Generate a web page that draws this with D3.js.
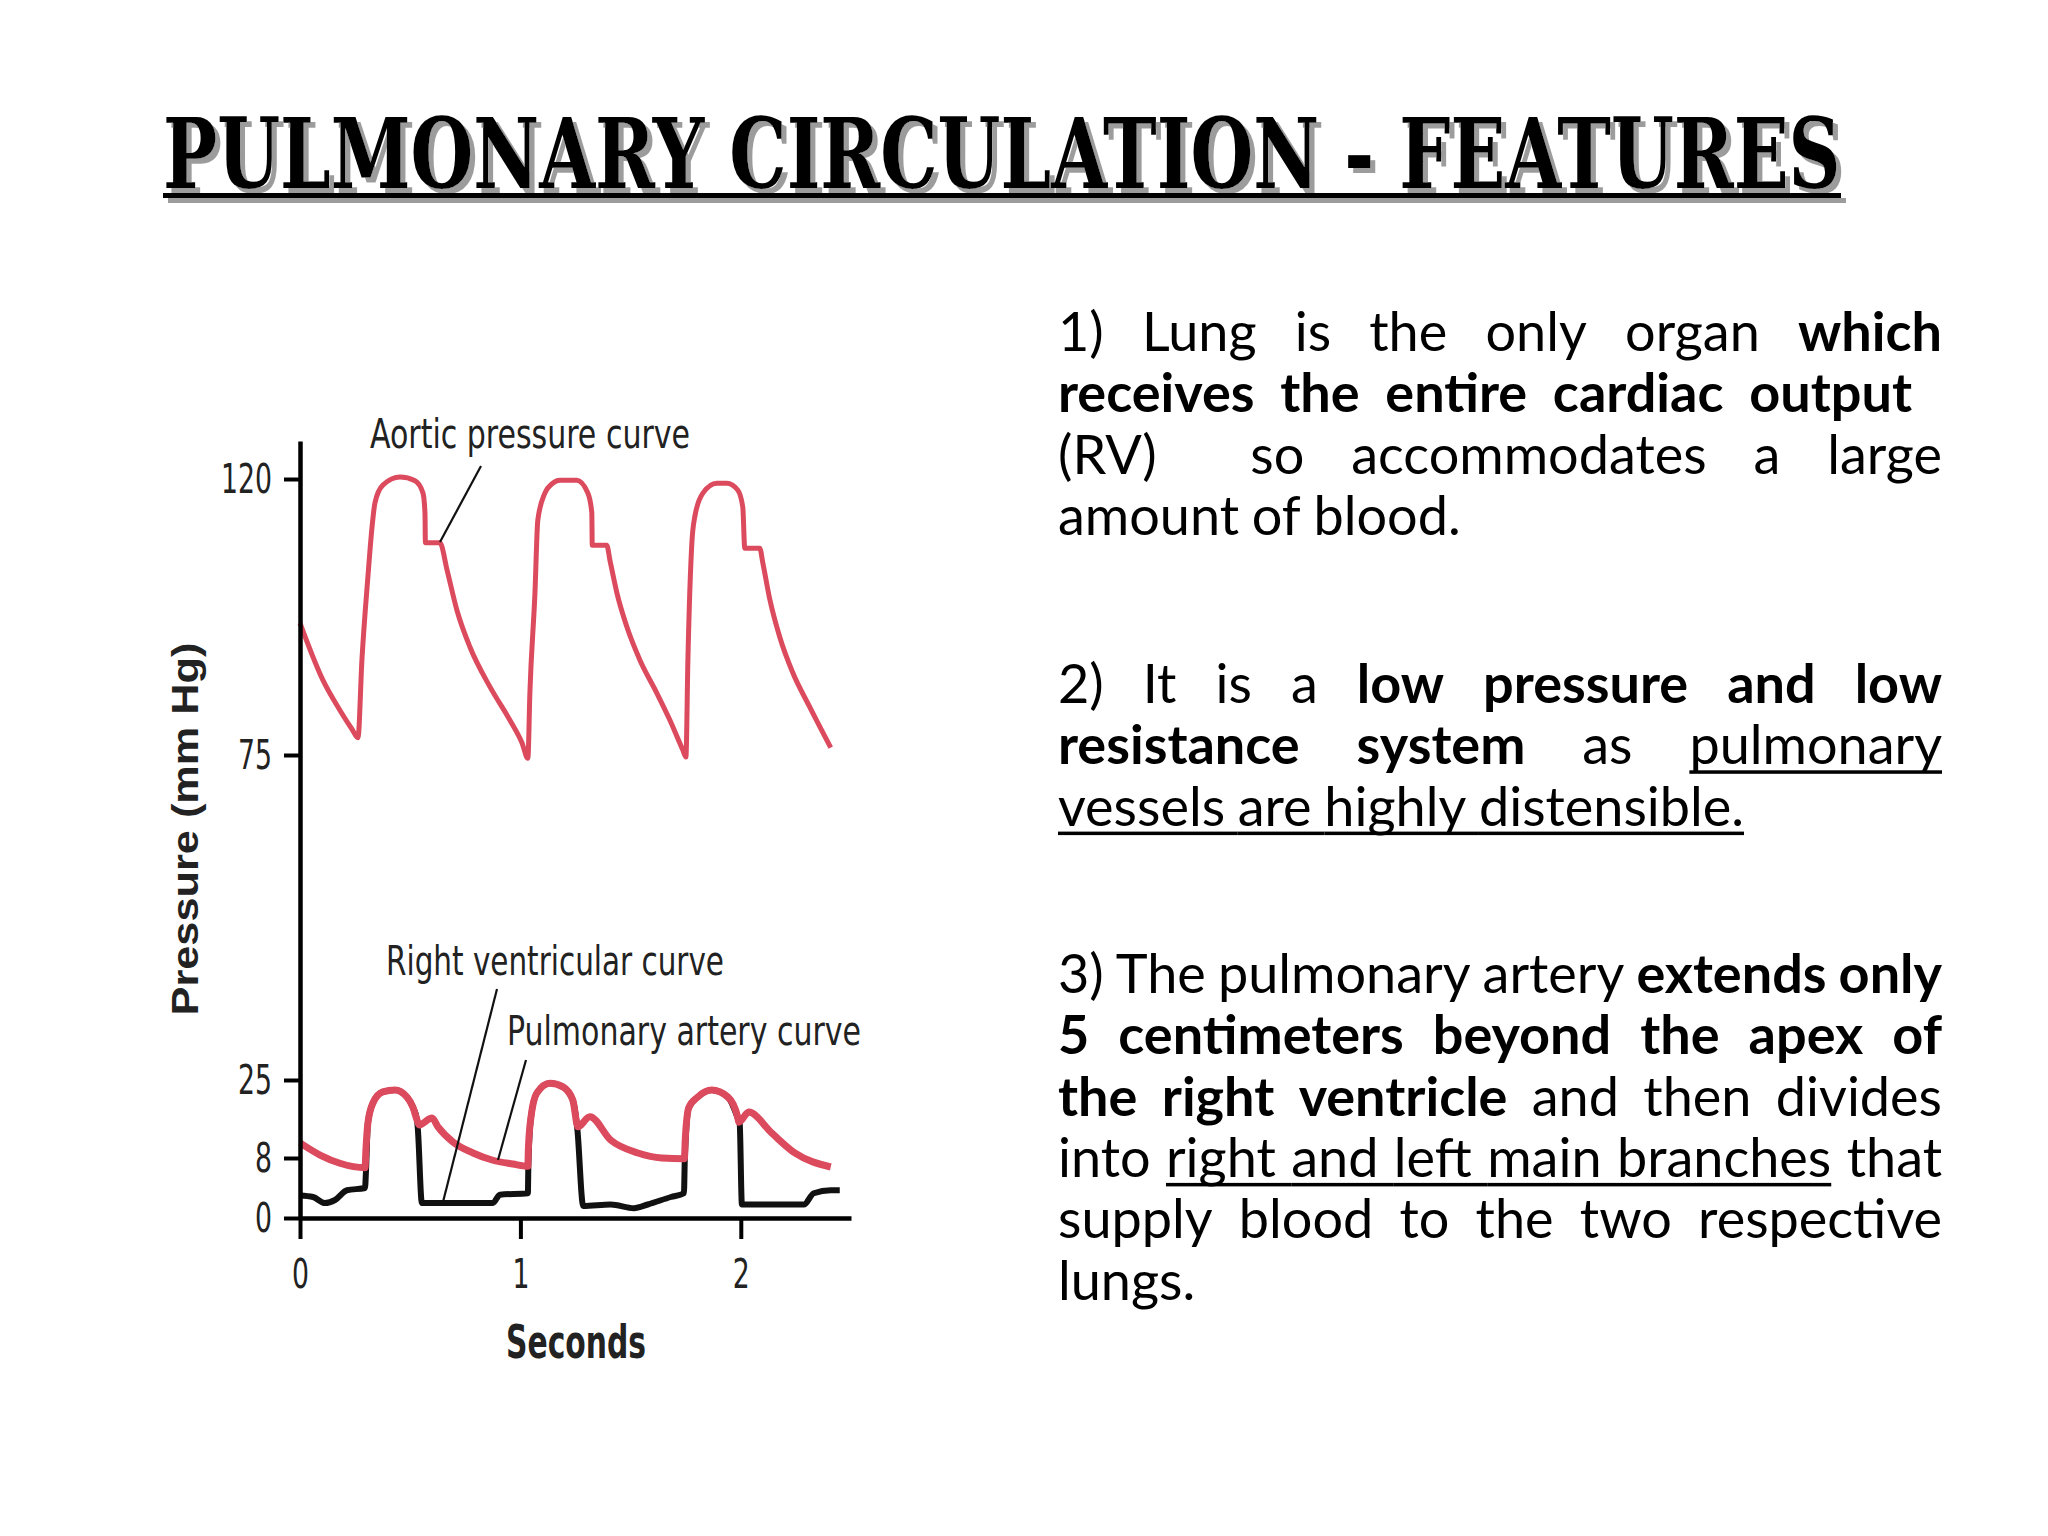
<!DOCTYPE html>
<html>
<head>
<meta charset="utf-8">
<script src="https://cdn.jsdelivr.net/npm/d3@7"></script>
<style>
body { margin: 0; background: #fff; }
</style>
</head>
<body>
<svg id="slide" width="2048" height="1536">
  <defs>
    <filter id="shadow" x="-5%" y="-20%" width="110%" height="140%">
      <feDropShadow dx="5" dy="5" stdDeviation="0.6" flood-color="#9c9c9c" flood-opacity="1"/>
    </filter>
  </defs>
</svg>
<script>
// pressure traces: time in seconds, pressure in mm Hg
var aorticTime = [0.000, 0.104, 0.181, 0.236, 0.263, 0.281, 0.308, 0.327, 0.340, 0.376, 0.454, 0.522, 0.558, 0.567, 0.569, 0.635,
                  0.667, 0.712, 0.771, 0.862, 0.952, 1.007, 1.034, 1.043, 1.066, 1.079, 1.111, 1.143, 1.179, 1.256, 1.306, 1.324,
                  1.326, 1.392, 1.406, 1.438, 1.483, 1.542, 1.619, 1.678, 1.737, 1.751, 1.760, 1.778, 1.791, 1.828, 1.891, 1.937,
                  1.986, 2.009, 2.018, 2.086, 2.100, 2.132, 2.177, 2.236, 2.313, 2.408];
var aorticPressure = [96.5, 87.2, 82.3, 79.2, 77.8, 90.5, 104.0, 112.2, 116.1, 119.0, 120.3, 119.7, 117.7, 114.5, 109.6, 109.6,
                      105.2, 98.6, 92.6, 86.1, 80.7, 77.0, 74.5, 85.1, 101.4, 113.3, 117.7, 119.2, 119.8, 119.8, 117.7, 114.5,
                      109.2, 109.2, 106.8, 101.4, 95.9, 90.5, 85.1, 80.7, 75.8, 74.7, 90.5, 109.6, 113.8, 117.7, 119.3, 119.3,
                      118.2, 115.4, 108.7, 108.7, 106.3, 100.3, 94.2, 88.4, 82.8, 76.2];

var pulmonaryTime = [0.000, 0.091, 0.181, 0.295, 0.299, 0.308, 0.331, 0.376, 0.431, 0.485, 0.512, 0.531, 0.540, 0.599, 0.626, 0.694,
                     0.785, 0.875, 0.966, 1.034, 1.036, 1.048, 1.075, 1.134, 1.193, 1.238, 1.261, 1.315, 1.410, 1.533, 1.642, 1.744,
                     1.748, 1.764, 1.805, 1.868, 1.941, 1.986, 1.991, 2.036, 2.141, 2.245, 2.408];
var pulmonaryPressure = [11.3, 8.65, 7.3, 6.7, 9.7, 15.6, 20.0, 22.4, 22.8, 21.3, 19.1, 16.3, 15.2, 16.7, 14.8, 11.5,
                         9.1, 7.7, 7.2, 6.9, 9.7, 16.9, 22.2, 24.3, 23.5, 20.6, 14.8, 17.0, 11.9, 9.1, 8.0, 7.9,
                         12.0, 19.0, 21.3, 22.8, 21.3, 16.9, 15.8, 18.0, 13.4, 9.1, 6.8];

var ventricleTime = [0.000, 0.059, 0.113, 0.159, 0.213, 0.295, 0.299, 0.308, 0.331, 0.376, 0.431, 0.485, 0.512, 0.531, 0.535, 0.553,
                     0.875, 0.907, 1.034, 1.036, 1.048, 1.075, 1.134, 1.193, 1.238, 1.258, 1.285, 1.410, 1.515, 1.578, 1.683, 1.742,
                     1.746, 1.764, 1.805, 1.868, 1.941, 1.986, 1.995, 2.005, 2.286, 2.331, 2.408, 2.449];
var ventriclePressure = [3.0, 2.8, 2.0, 2.4, 3.7, 4.0, 6.0, 15.6, 20.0, 22.4, 22.8, 21.3, 19.1, 16.3, 14.1, 2.0,
                         2.0, 3.1, 3.3, 6.9, 16.9, 22.2, 24.3, 23.5, 20.6, 14.5, 1.6, 1.8, 1.3, 1.8, 2.8, 3.3,
                         7.9, 19.0, 21.3, 22.8, 21.3, 16.7, 15.5, 1.8, 1.8, 3.3, 3.7, 3.7];

var pressureTicks = [0, 8, 25, 75, 120];
var secondTicks = [0, 1, 2];

var title = "PULMONARY CIRCULATION - FEATURES";

// * = bold word, _ = underlined word, empty word = extra space
var point1 = ["1) Lung is the only organ *which",
              "*receives *the *entire *cardiac *output",
              "(RV)  so accommodates a large",
              "amount of blood."];
var point2 = ["2) It is a *low *pressure *and *low",
              "*resistance *system as _pulmonary",
              "_vessels _are _highly _distensible."];
var point3 = ["3) The pulmonary artery *extends *only",
              "*5 *centimeters *beyond *the *apex *of",
              "*the *right *ventricle and then divides",
              "into _right _and _left _main _branches that",
              "supply blood to the two respective",
              "lungs."];

var red = "#dc4a5e";
var narrow = "'Liberation Sans Narrow', 'Arial Narrow', 'DejaVu Sans Condensed', sans-serif";

var svg = d3.select("#slide");

// ---- title (one text, squeezed sideways, with a flat grey shadow) ----
var titleX = 163, titleBase = 188, titleLen = 1678;
var tg = svg.append("g").attr("filter", "url(#shadow)");
var tt = tg.append("text")
    .attr("font-family", "'DejaVu Serif', serif")
    .attr("font-weight", "bold")
    .attr("font-size", 97)
    .attr("fill", "#000")
    .text(title);
var natural = tt.node().getComputedTextLength();
tt.attr("transform", "translate(" + titleX + "," + titleBase + ") scale(" + (titleLen / natural) + ",1)");
tg.append("rect")
    .attr("x", titleX).attr("y", 193)
    .attr("width", titleLen).attr("height", 5)
    .attr("fill", "#000");

// ---- chart ----
var x = d3.scaleLinear().domain([0, 2.5]).range([300, 851]);
// the figure's pressure axis is not evenly spaced, so the scale is piecewise
var y = d3.scaleLinear().domain([0, 8, 25, 75, 120, 126]).range([1218, 1158, 1080, 755, 479, 441]);

function zipped(ts, ps) { return ts.map(function(t, i) { return [t, ps[i]]; }); }

var line = d3.line()
    .x(function(d) { return x(d[0]); })
    .y(function(d) { return y(d[1]); })
    .curve(d3.curveMonotoneX);

svg.append("path")
    .datum(zipped(ventricleTime, ventriclePressure))
    .attr("d", line)
    .attr("fill", "none").attr("stroke", "#111").attr("stroke-width", 6)
    .attr("stroke-linejoin", "round");

svg.append("path")
    .datum(zipped(pulmonaryTime, pulmonaryPressure))
    .attr("d", line)
    .attr("fill", "none").attr("stroke", red).attr("stroke-width", 7)
    .attr("stroke-linejoin", "round");

svg.append("path")
    .datum(zipped(aorticTime, aorticPressure))
    .attr("d", line)
    .attr("fill", "none").attr("stroke", red).attr("stroke-width", 5)
    .attr("stroke-linejoin", "round");

var yAxis = svg.append("g")
    .attr("transform", "translate(300,0)")
    .call(d3.axisLeft(y).tickValues(pressureTicks).tickSizeInner(16).tickSizeOuter(0).tickPadding(12));

var xAxis = svg.append("g")
    .attr("transform", "translate(0,1218)")
    .call(d3.axisBottom(x).tickValues(secondTicks).tickSizeInner(21).tickSizeOuter(0).tickPadding(20)
        .tickFormat(d3.format("d")));

[yAxis, xAxis].forEach(function(a) {
    a.select(".domain").attr("stroke", "#000").attr("stroke-width", 4.5);
    a.selectAll(".tick line").attr("stroke", "#000").attr("stroke-width", 4);
    a.selectAll(".tick text")
        .attr("fill", "#222")
        .attr("font-family", narrow)
        .attr("font-size", 41)
        .attr("textLength", function(d) { return String(d).length * 17; })
        .attr("lengthAdjust", "spacingAndGlyphs");
});

svg.append("text")
    .attr("transform", "translate(198,829) rotate(-90)")
    .attr("text-anchor", "middle")
    .attr("font-family", "'Liberation Sans', Arial, sans-serif")
    .attr("font-weight", "bold")
    .attr("font-size", 36)
    .attr("textLength", 373)
    .attr("lengthAdjust", "spacingAndGlyphs")
    .attr("fill", "#222")
    .text("Pressure (mm Hg)");

svg.append("text")
    .attr("x", 506).attr("y", 1358)
    .attr("font-family", narrow)
    .attr("font-weight", "bold")
    .attr("font-size", 46)
    .attr("textLength", 140)
    .attr("lengthAdjust", "spacingAndGlyphs")
    .attr("fill", "#222")
    .text("Seconds");

// curve labels with their leader lines
var labels = [
    {text: "Aortic pressure curve", x: 370, y: 448, len: 320, from: [481, 466], to: [440, 542]},
    {text: "Right ventricular curve", x: 386, y: 975, len: 338, from: [497, 989], to: [443, 1202]},
    {text: "Pulmonary artery curve", x: 507, y: 1045, len: 354, from: [526, 1060], to: [498, 1160]}
];
labels.forEach(function(l) {
    svg.append("text")
        .attr("x", l.x).attr("y", l.y)
        .attr("font-family", narrow)
        .attr("font-size", 41)
        .attr("textLength", l.len)
        .attr("lengthAdjust", "spacingAndGlyphs")
        .attr("fill", "#222")
        .text(l.text);
    svg.append("line")
        .attr("x1", l.from[0]).attr("y1", l.from[1])
        .attr("x2", l.to[0]).attr("y2", l.to[1])
        .attr("stroke", "#111").attr("stroke-width", 2.2);
});

// ---- justified bullet text ----
var fontSize = 54, lineStep = 61.3, textLeft = 1058, textRight = 1942;
var body = svg.append("g")
    .attr("font-family", "Lato, 'Open Sans', sans-serif")
    .attr("font-size", fontSize)
    .attr("fill", "#000");

function measure(str, bold) {
    var t = body.append("text").attr("font-weight", bold ? "bold" : "normal").text(str);
    var w = t.node().getComputedTextLength();
    t.remove();
    return w;
}
var spaceW = measure("a a") - measure("aa");

function drawPoint(lines, firstBase, rights) {
    lines.forEach(function(str, i) {
        var base = firstBase + i * lineStep;
        var words = str.split(" ").map(function(w) {
            var bold = w.charAt(0) === "*", under = w.charAt(0) === "_";
            var txt = (bold || under) ? w.slice(1) : w;
            return {text: txt, bold: bold, under: under, w: txt ? measure(txt, bold) : 0};
        });
        var last = i === lines.length - 1;
        var total = d3.sum(words, function(d) { return d.w; });
        var right = rights && rights[i] ? rights[i] : textRight;
        var gap = (last || words.length < 2) ? spaceW * 0.92 : (right - textLeft - total) / (words.length - 1);
        var cx = textLeft;
        words.forEach(function(d) {
            d.x = cx;
            if (d.text) {
                body.append("text")
                    .attr("x", cx).attr("y", base)
                    .attr("font-weight", d.bold ? "bold" : "normal")
                    .text(d.text);
            }
            cx += d.w + gap;
        });
        words.forEach(function(d, j) {
            if (!d.under) return;
            var next = words[j + 1];
            var end = next && next.under ? next.x : d.x + d.w;
            body.append("rect")
                .attr("x", d.x).attr("y", base + 6)
                .attr("width", end - d.x).attr("height", 3.5)
                .attr("fill", "#000");
        });
    });
}

drawPoint(point1, 351, [null, 1912]);
drawPoint(point2, 703);
drawPoint(point3, 993);
</script>
</body>
</html>
